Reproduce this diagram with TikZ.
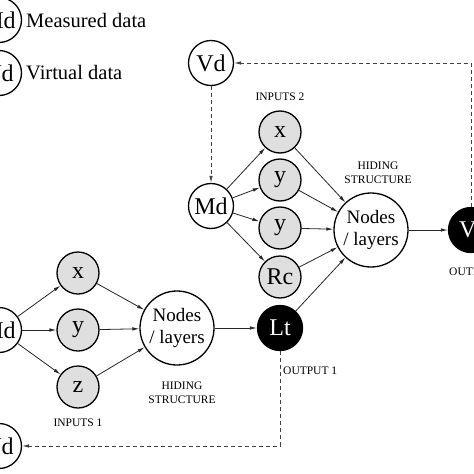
\documentclass[tikz,border=0pt]{standalone}
\usepackage{fontspec}
\setmainfont{Liberation Serif}
\usetikzlibrary{arrows.meta}
\begin{document}
\begin{tikzpicture}[x=1pt,y=-1pt,
  base/.style={circle,draw,line width=1.3pt,inner sep=0pt,font=\fontsize{24}{26}\selectfont},
  meas/.style={base,fill=white,minimum size=45pt},
  inp/.style={base,fill=gray!25,minimum size=42pt},
  outn/.style={base,fill=black,text=white,minimum size=45pt},
  hid/.style={base,fill=white,minimum size=74pt,align=center,font=\fontsize{19}{22}\selectfont},
  lbl/.style={font=\fontsize{11.5}{14}\selectfont,align=center,inner sep=0pt},
  leg/.style={font=\fontsize{20.5}{24}\selectfont,inner sep=0pt,anchor=west},
  arr/.style={-{Latex[length=7pt,width=3.5pt]},line width=0.8pt,draw=black!85},
  dsh/.style={arr,dash pattern=on 4pt off 3pt,draw=black!75},
]
\clip (0,0) rectangle (474,474);
% legend
\node[meas] (l1) at (-1,20) {Md};
\node[meas] (l2) at (-1,73) {Vd};
\node[leg] (t1) at (26,20) {Measured data};
\node[leg] (t2) at (26,73) {Virtual data};
% top network
\node[meas] (Vdt) at (211,63) {Vd};
\node[meas] (Mdt) at (211,206) {Md};
\node[inp] (x2) at (280,132) {x};
\node[inp] (y2) at (280,180) {y};
\node[inp] (y3) at (280,228) {y};
\node[inp] (Rc) at (280,277) {Rc};
\node[hid] (Ht) at (371,230) {Nodes\\/ layers};
\node[outn] (Vt) at (471,230) {Vt};
\node[lbl] (in2) at (280,97) {INPUTS 2};
\node[lbl] (hs2) at (378,173) {HIDING\\STRUCTURE};
\node[lbl,anchor=west] (o2) at (449,272) {OUTPUT 2};
% bottom network
\node[meas] (Mdb) at (-1,330) {Md};
\node[inp] (x1) at (78,273) {x};
\node[inp] (y1) at (78,330) {y};
\node[inp] (z1) at (78,387) {z};
\node[hid] (Hb) at (177,328) {Nodes\\/ layers};
\node[outn] (Lt) at (280,328) {Lt};
\node[meas] (Vdb) at (-1,446) {Vd};
\node[lbl] (in1) at (78,423) {INPUTS 1};
\node[lbl] (hs1) at (182,393) {HIDING\\STRUCTURE};
\node[lbl,anchor=west] (o1) at (283,371) {OUTPUT 1};
% connectors
\foreach \t in {x2,y2,y3,Rc} {\draw[arr] (Mdt) -- (\t); \draw[arr] (\t) -- (Ht);}
\draw[arr] (Lt) -- (Ht);
\draw[arr] (Ht) -- (Vt);
\foreach \t in {x1,y1,z1} {\draw[arr] (Mdb) -- (\t); \draw[arr] (\t) -- (Hb);}
\draw[arr] (Hb) -- (Lt);
\draw[dsh] (Vdt) -- (Mdt);
\draw[dsh] (Vt.north) |- (Vdt.east);
\draw[dsh] (Lt.south) |- (Vdb.east);
\end{tikzpicture}
\end{document}
